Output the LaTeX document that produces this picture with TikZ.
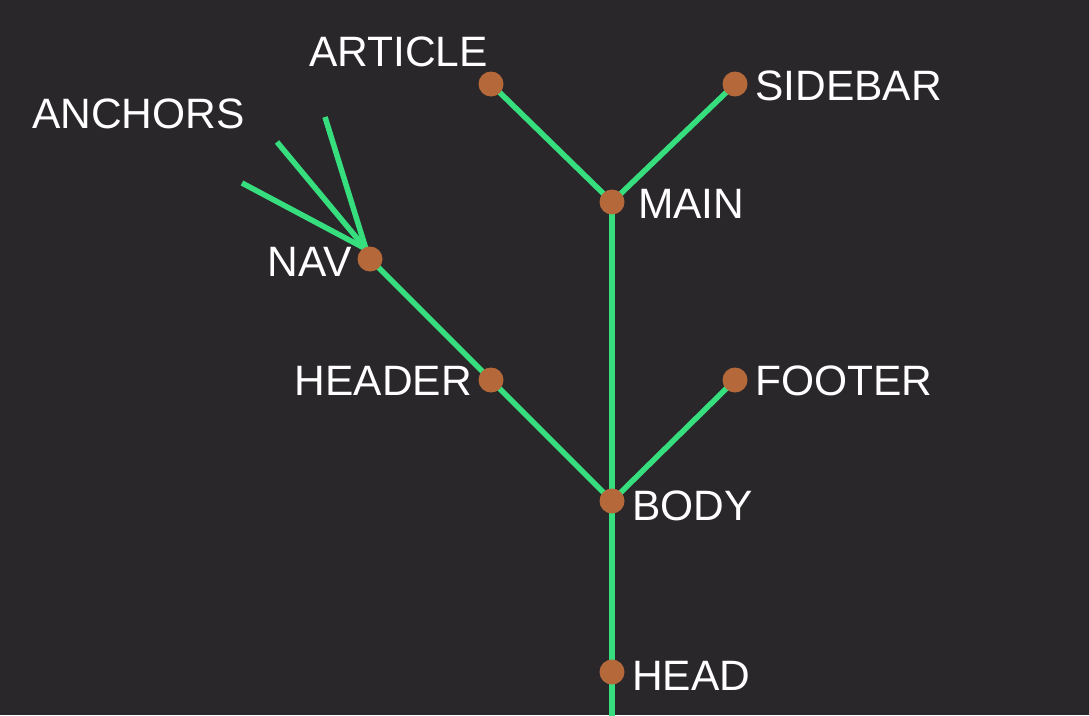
\documentclass[tikz,border=0pt]{standalone}
\usepackage{fontspec}
\setmainfont{Liberation Sans}
\definecolor{bgdark}{HTML}{2A272B}
\definecolor{branch}{HTML}{36DE7E}
\definecolor{leaf}{HTML}{B5683A}
\pgfdeclarelayer{background}
\pgfdeclarelayer{edges}
\pgfsetlayers{background,edges,main}

\begin{document}
\begin{tikzpicture}
  [x=1pt,y=-1pt,
   dot/.style={circle,fill=leaf,inner sep=0pt,minimum size=25pt},
   tag/.style={text=white,inner sep=0pt,font=\fontsize{42.5}{42.5}\selectfont},
   edge/.style={draw=branch,line width=5.5pt}]
  \begin{pgfonlayer}{background}
    \fill[bgdark] (0,0) rectangle (1089,715);
  \end{pgfonlayer}
  \useasboundingbox (0,0) rectangle (1089,715);

  \coordinate (root) at (612,720);
  \coordinate (navtip) at (366,249);
  \coordinate (a1) at (242,183);
  \coordinate (a2) at (277,142);
  \coordinate (a3) at (325,117);

  \node[dot] (head) at (612,672) {};
  \node[dot] (body) at (612,501) {};
  \node[dot] (header) at (491,380) {};
  \node[dot] (footer) at (735,380) {};
  \node[dot] (nav) at (370,259) {};
  \node[dot] (main) at (612,202) {};
  \node[dot] (article) at (491,84) {};
  \node[dot] (sidebar) at (735,84) {};

  \begin{pgfonlayer}{edges}
  \foreach \from/\to in {root/head,head/body,body/header,header/nav,body/footer,body/main,main/article,main/sidebar}
    \draw[edge] (\from.center) -- (\to.center);
  \foreach \to in {a1,a2,a3}
    \draw[edge] (navtip) -- (\to);
  \end{pgfonlayer}

  \node[tag,anchor=east] (tarticle) at (488,52) {ARTICLE};
  \node[tag,anchor=west] (tanchors) at (32,114) {ANCHORS};
  \node[tag,anchor=west] (tsidebar) at (755,86) {SIDEBAR};
  \node[tag,anchor=west] (tmain) at (638,204) {MAIN};
  \node[tag,anchor=east] (tnav) at (352,262) {NAV};
  \node[tag,anchor=east] (theader) at (472,381) {HEADER};
  \node[tag,anchor=west] (tfooter) at (755,381) {FOOTER};
  \node[tag,anchor=west] (tbody) at (632,506) {BODY};
  \node[tag,anchor=west] (thead) at (632,676) {HEAD};
\end{tikzpicture}
\end{document}
